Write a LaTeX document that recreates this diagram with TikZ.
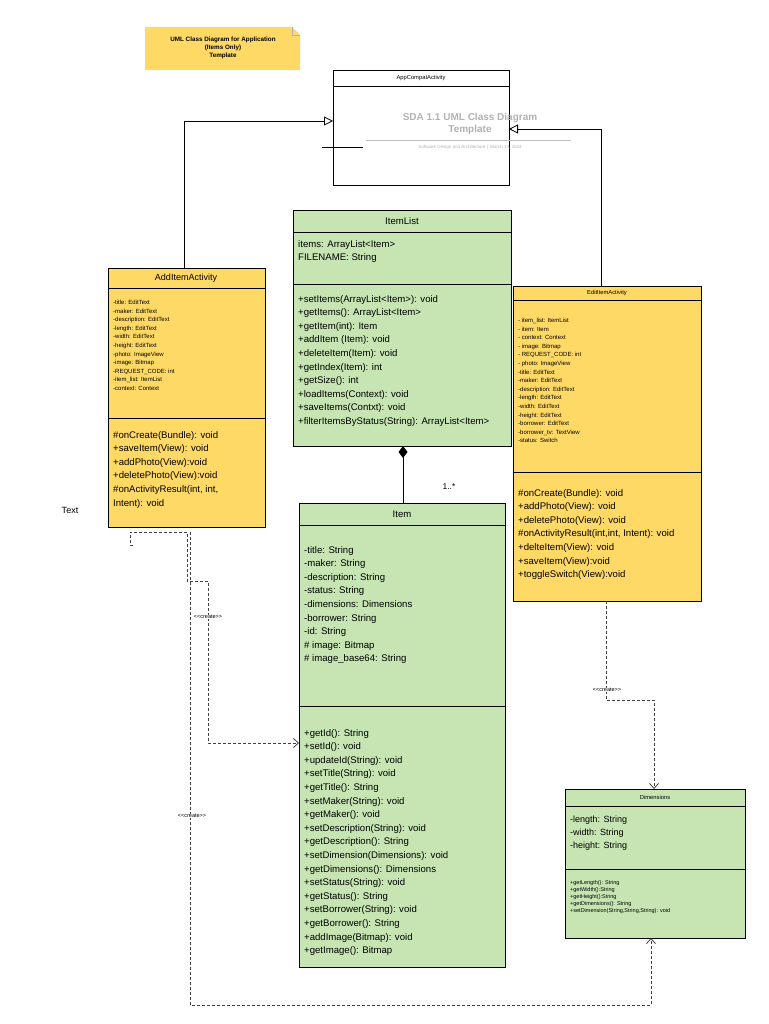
\documentclass[tikz,border=0pt]{standalone}
\usepackage{fontspec}
\setmainfont{Liberation Sans}
\usetikzlibrary{arrows.meta,calc}
\definecolor{uyel}{HTML}{FFD966}
\definecolor{ugrn}{HTML}{C6E5B3}
\begin{document}
\begin{tikzpicture}[x=1pt,y=-1pt,
  cls/.style={draw, thick, anchor=north west, inner sep=0pt},
  txt/.style={anchor=north west, align=left, inner sep=0pt},
  big/.style={txt, font=\fontsize{9.6}{13.6}\selectfont},
  sml/.style={txt, font=\fontsize{6}{8.6}\selectfont},
  inh/.style={thick, -{Triangle[open,length=9pt,width=9pt]}},
  dep/.style={thick, densely dashed, black!75, -{Straight Barb[length=5pt,width=9pt]}},
  lbl/.style={font=\fontsize{5.5}{6}\selectfont, fill=white, inner sep=0.5pt}
]
\useasboundingbox (0,0) rectangle (768,1024);

% note
\fill[uyel] (145,27) -- (292,27) -- (300,35) -- (300,70) -- (145,70) -- cycle;
\draw[black!30] (292,27) -- (292,35) -- (300,35);
\node[font=\bfseries\fontsize{6.3}{8}\selectfont, align=center] (note) at (223,48) {UML Class Diagram for Application\\(Items Only)\\Template};

% AppCompatActivity
\draw[thick] (333,70) rectangle (509,185);
\draw[thick] (333,86) -- (509,86);
\node[font=\fontsize{5.8}{7}\selectfont] (app) at (421,78) {AppCompatActivity};
\coordinate (appL) at (333,121);
\coordinate (appR) at (509,129);
\node[font=\bfseries\fontsize{10}{12}\selectfont, text=black!30, align=center] (wm) at (470,124) {SDA 1.1 UML Class Diagram\\Template};
\draw[black!25] (366,140) -- (571,140);
\node[font=\fontsize{4.5}{5}\selectfont, text=black!30] (wm2) at (470,147) {Software Design and Architecture \,|\, March 13, 2024};
\draw (322,147) -- (363,147);

% ItemList
\fill[ugrn] (293,210) rectangle (511,446);
\draw[thick] (293,210) rectangle (511,446);
\draw[thick] (293,232) -- (511,232) (293,284) -- (511,284);
\node[font=\fontsize{9.6}{11}\selectfont] (il) at (402,221) {ItemList};
\node[big] (ila) at (298,240) {items: ArrayList<Item>\\FILENAME: String};
\node[big] (ilm) at (298,295) {+setItems(ArrayList<Item>): void\\+getItems(): ArrayList<Item>\\+getItem(int): Item\\+addItem (Item): void\\+deleteItem(Item): void\\+getIndex(Item): int\\+getSize(): int\\+loadItems(Context): void\\+saveItems(Contxt): void\\+filterItemsByStatus(String): ArrayList<Item>};

% AddItemActivity
\fill[uyel] (108,268) rectangle (265,527);
\draw[thick] (108,268) rectangle (265,527);
\draw[thick] (108,288) -- (265,288) (108,418) -- (265,418);
\node[font=\fontsize{9}{11}\selectfont] (add) at (186,278) {AddItemActivity};
\node[sml] (adda) at (113,300) {-title: EditText\\-maker: EditText\\-description: EditText\\-length: EditText\\-width: EditText\\-height: EditText\\-photo: ImageView\\-image: Bitmap\\-REQUEST\_CODE: int\\-item\_list: ItemList\\-context: Context};
\node[big] (addm) at (113,431) {\#onCreate(Bundle): void\\+saveItem(View): void\\+addPhoto(View):void\\+deletePhoto(View):void\\\#onActivityResult(int, int,\\Intent): void};

% EditItemActivity
\fill[uyel] (513,286) rectangle (701,601);
\draw[thick] (513,286) rectangle (701,601);
\draw[thick] (513,300) -- (701,300) (513,472) -- (701,472);
\node[font=\fontsize{5.8}{7}\selectfont] (edit) at (607,293) {EditItemActivity};
\node[sml] (edita) at (518,318) {- item\_list: ItemList\\- item: Item\\- context: Context\\- image: Bitmap\\- REQUEST\_CODE: int\\- photo: ImageView\\-title: EditText\\-maker: EditText\\-description: EditText\\-length: EditText\\-width: EditText\\-height: EditText\\-borrower: EditText\\-borrower\_tv: TextView\\-status: Switch};
\node[big] (editm) at (518,489) {\#onCreate(Bundle): void\\+addPhoto(View): void\\+deletePhoto(View): void\\\#onActivityResult(int,int, Intent): void\\+delteItem(View): void\\+saveItem(View):void\\+toggleSwitch(View):void};

% Item
\fill[ugrn] (299,503) rectangle (505,967);
\draw[thick] (299,503) rectangle (505,967);
\draw[thick] (299,525) -- (505,525) (299,706) -- (505,706);
\node[font=\fontsize{9.6}{11}\selectfont] (item) at (402,514) {Item};
\node[big] (itema) at (304,546) {-title: String\\-maker: String\\-description: String\\-status: String\\-dimensions: Dimensions\\-borrower: String\\-id: String\\\# image: Bitmap\\\# image\_base64: String};
\node[big] (itemm) at (304,729) {+getId(): String\\+setId(): void\\+updateId(String): void\\+setTitle(String): void\\+getTitle(): String\\+setMaker(String): void\\+getMaker(): void\\+setDescription(String): void\\+getDescription(): String\\+setDimension(Dimensions): void\\+getDimensions(): Dimensions\\+setStatus(String): void\\+getStatus(): String\\+setBorrower(String): void\\+getBorrower(): String\\+addImage(Bitmap): void\\+getImage(): Bitmap};

% Dimensions
\fill[ugrn] (565,789) rectangle (745,938);
\draw[thick] (565,789) rectangle (745,938);
\draw[thick] (565,806) -- (745,806) (565,869) -- (745,869);
\node[font=\fontsize{5.8}{7}\selectfont] (dim) at (655,797) {Dimensions};
\node[big, font=\fontsize{9}{13}\selectfont] (dima) at (570,816) {-length: String\\-width: String\\-height: String};
\node[sml, font=\fontsize{5.5}{7.2}\selectfont] (dimm) at (570,880) {+getLength(): String\\+getWidth():String\\+getHeight():String\\+getDimensions(): String\\+setDimension(String,String,String): void};

\node[font=\fontsize{9}{11}\selectfont] (t) at (70,510) {Text};

% inheritance
\draw[inh] (184,268) |- (appL);
\draw[inh] (601,286) |- (appR);

% composition
\draw[thick, {Diamond[length=12pt,width=9pt]}-] (403,446) -- (403,503);
\node[font=\fontsize{8.5}{10}\selectfont] (mult) at (449,487) {1..*};

% dependencies
\draw[thick, densely dashed, black!75] (132,532) -- (130,532) -- (130,545) -- (134,545);
\draw[dep] (134,532) -- (187,532) -- (187,581) -- (208,581) -- (208,743) -- (299,743);
\node[lbl] (c1) at (208,617) {{<}{<}create{>}{>}};
\draw[dep] (190,532) -- (190,1005) -- (651,1005) -- (651,938);
\node[lbl] (c2) at (192,816) {{<}{<}create{>}{>}};
\draw[dep] (606,601) -- (606,700) -- (654,700) -- (654,789);
\node[lbl] (c3) at (607,690) {{<}{<}create{>}{>}};
\end{tikzpicture}
\end{document}
